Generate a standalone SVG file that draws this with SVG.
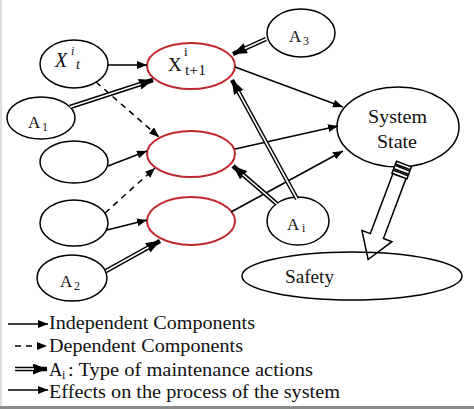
<svg xmlns="http://www.w3.org/2000/svg" width="474" height="409" viewBox="0 0 474 409">
<style>
  .n { fill: #fff; stroke: #000; stroke-width: 1.5; }
  .r { fill: #fff; stroke: #c0272d; stroke-width: 2; }
  .t { font-family: "Liberation Serif", "Times New Roman", serif; fill: #111; }
  .s { fill: none; stroke: #000; stroke-width: 1.5; }
  .d { fill: none; stroke: #000; stroke-width: 1.5; stroke-dasharray: 6 5; }
  .db { fill: none; stroke: #000; stroke-width: 4.5; }
  .dw { fill: none; stroke: #fff; stroke-width: 1.6; }
</style>
<defs>
  <marker id="ah" markerUnits="userSpaceOnUse" markerWidth="11" markerHeight="9" refX="10" refY="4" orient="auto">
    <path d="M0,0 L10,4 L0,8 z" fill="#000"/>
  </marker>
  <marker id="dh" markerUnits="userSpaceOnUse" markerWidth="15" markerHeight="12" refX="14" refY="5.5" orient="auto">
    <path d="M0,0 L14,5.5 L0,11 z" fill="#000"/>
  </marker>
</defs>
<rect x="0" y="0" width="474" height="409" fill="#fff"/>
<rect x="0" y="0" width="2" height="406" fill="#ddd"/>
<rect x="0" y="406" width="474" height="3" fill="#8a8a8a"/>

<g id="xt">
  <ellipse class="n" cx="74" cy="64" rx="34" ry="24"/>
  <text class="t" x="55" y="67" font-size="20" font-style="italic">X</text>
  <text class="t" x="71" y="55" font-size="12" font-style="italic">i</text>
  <text class="t" x="76" y="69" font-size="14" font-style="italic">t</text>
</g>
<g id="xt1">
  <ellipse class="r" cx="191" cy="66" rx="44" ry="23"/>
  <text class="t" x="168" y="71" font-size="19">X</text>
  <text class="t" x="184" y="56" font-size="13">i</text>
  <text class="t" x="185" y="75" font-size="14" textLength="21" lengthAdjust="spacingAndGlyphs">t+1</text>
</g>
<g id="a1">
  <ellipse class="n" cx="41" cy="118" rx="34" ry="21"/>
  <text class="t" x="28" y="128" font-size="17">A</text>
  <text class="t" x="42" y="131" font-size="12">1</text>
</g>
<g id="e1">
  <ellipse class="n" cx="74" cy="162" rx="34" ry="21"/>
</g>
<g id="rm">
  <ellipse class="r" cx="191" cy="154" rx="44" ry="23"/>
</g>
<g id="e2">
  <ellipse class="n" cx="74" cy="223" rx="34" ry="23"/>
</g>
<g id="rb">
  <ellipse class="r" cx="191" cy="221" rx="44" ry="24"/>
</g>
<g id="a2">
  <ellipse class="n" cx="72" cy="278" rx="35" ry="23"/>
  <text class="t" x="60" y="287" font-size="17">A</text>
  <text class="t" x="74" y="290" font-size="12">2</text>
</g>
<g id="a3">
  <ellipse class="n" cx="301" cy="33" rx="34" ry="24"/>
  <text class="t" x="289" y="42" font-size="17">A</text>
  <text class="t" x="303" y="45" font-size="12">3</text>
</g>
<g id="ai">
  <ellipse class="n" cx="298" cy="221" rx="31" ry="24"/>
  <text class="t" x="287" y="230" font-size="17">A</text>
  <text class="t" x="302" y="232" font-size="12">i</text>
</g>
<g id="ss">
  <ellipse class="n" cx="398" cy="127" rx="61" ry="40"/>
  <text class="t" x="397.5" y="123" font-size="19" text-anchor="middle" textLength="59" lengthAdjust="spacingAndGlyphs">System</text>
  <text class="t" x="397" y="148" font-size="19" text-anchor="middle" textLength="40" lengthAdjust="spacingAndGlyphs">State</text>
</g>

<g id="connectors">
  <line class="s" x1="108" y1="65" x2="147" y2="65" marker-end="url(#ah)"/>
  <line class="s" x1="108" y1="166" x2="147" y2="151" marker-end="url(#ah)"/>
  <line class="s" x1="107" y1="230" x2="147" y2="220" marker-end="url(#ah)"/>
  <line class="s" x1="235" y1="67" x2="343" y2="107" marker-end="url(#ah)"/>
  <line class="s" x1="235" y1="149" x2="338" y2="126" marker-end="url(#ah)"/>
  <line class="s" x1="231" y1="212" x2="343" y2="151" marker-end="url(#ah)"/>
  <line class="d" x1="96" y1="82" x2="159" y2="137" marker-end="url(#ah)"/>
  <line class="d" x1="105" y1="213" x2="155" y2="168" marker-end="url(#ah)"/>

  <line class="db" x1="70" y1="107" x2="153" y2="80" marker-end="url(#dh)"/>
  <line class="dw" x1="70" y1="107" x2="140.6" y2="84"/>
  <line class="db" x1="106" y1="271" x2="160" y2="241" marker-end="url(#dh)"/>
  <line class="dw" x1="106" y1="271" x2="148.6" y2="247.3"/>
  <line class="db" x1="266" y1="39" x2="233" y2="54" marker-end="url(#dh)"/>
  <line class="dw" x1="266" y1="39" x2="244.8" y2="48.6"/>
  <line class="db" x1="297" y1="199" x2="232" y2="80" marker-end="url(#dh)"/>
  <line class="dw" x1="297" y1="199" x2="238.2" y2="91.4"/>
  <line class="db" x1="277" y1="204" x2="233" y2="166" marker-end="url(#dh)"/>
  <line class="dw" x1="277" y1="204" x2="242.8" y2="174.5"/>

  <g transform="translate(404,164) rotate(110.6)" fill="#fff" stroke="#000" stroke-width="1.5" stroke-linejoin="miter">
    <rect x="0" y="-8" width="3" height="16"/>
    <rect x="4.5" y="-8" width="3.5" height="16"/>
    <rect x="9.5" y="-8" width="3.5" height="16"/>
    <path d="M13,-7 L77,-7 L77,-16 L102,0 L77,16 L77,7 L13,7 Z"/>
  </g>
</g>

<g id="safety">
  <ellipse cx="352" cy="276" rx="110" ry="24" fill="none" stroke="#000" stroke-width="1.5"/>
  <text class="t" x="285" y="283" font-size="19" textLength="49" lengthAdjust="spacingAndGlyphs">Safety</text>
</g>

<g id="legend">
  <line class="s" x1="8" y1="324" x2="48" y2="324" marker-end="url(#ah)"/>
  <text class="t" x="49" y="329" font-size="18.5" textLength="206" lengthAdjust="spacingAndGlyphs">Independent Components</text>
  <line class="d" x1="15" y1="346" x2="47" y2="346" stroke-dasharray="6 5" marker-end="url(#ah)"/>
  <text class="t" x="49" y="352" font-size="18.5" textLength="194" lengthAdjust="spacingAndGlyphs">Dependent Components</text>
  <line class="db" x1="15" y1="369" x2="47" y2="369" marker-end="url(#dh)"/>
  <line class="dw" x1="15" y1="369" x2="34" y2="369"/>
  <text class="t" x="49" y="376" font-size="18.5">A</text>
  <text class="t" x="62" y="379" font-size="12">i</text>
  <text class="t" x="68" y="376" font-size="18.5" textLength="245" lengthAdjust="spacingAndGlyphs">: Type of maintenance actions</text>
  <line class="s" x1="8" y1="390" x2="48" y2="390" marker-end="url(#ah)"/>
  <text class="t" x="49" y="398" font-size="18.5" textLength="291" lengthAdjust="spacingAndGlyphs">Effects on the process of the system</text>
</g>
</svg>
